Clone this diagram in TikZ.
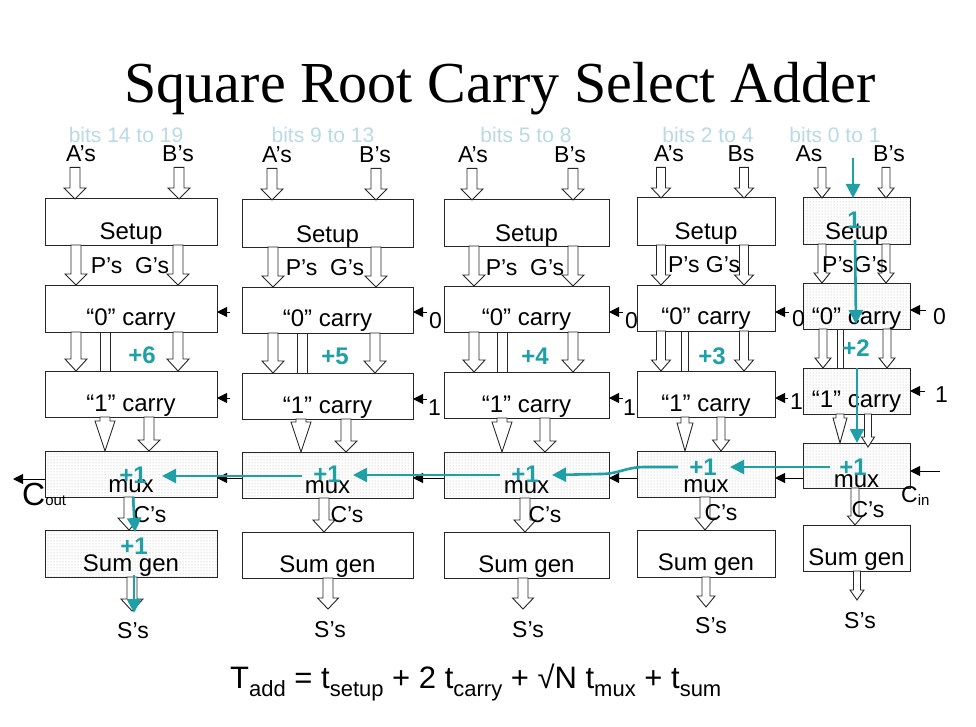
\documentclass[tikz,border=0pt]{standalone}
\usepackage{fontspec}
\setmainfont{Liberation Sans}
\newfontfamily\titlefont{Liberation Serif}
\usetikzlibrary{arrows.meta,patterns,calc}
\definecolor{tealc}{RGB}{30,160,166}
\definecolor{bitsc}{RGB}{185,218,230}
\newcommand\blk[8]{%
  \node[#7, minimum width={(#4-#2)*1pt}, minimum height={(#5-#3)*1pt}, anchor=north west] (#1) at (#2,#3) {};
  \node[boxtext, anchor=base] (#1t) at ([yshift=#8pt]#1.south) {#6};}
\newcommand\harr[6]{%
  \draw[harrow] let \p1=(#2), \p2=(#3) in
    ({(#1-#4/2)*1pt},\y1) -- ({(#1-#4/2)*1pt},{\y2+#6pt}) -- ({(#1-#5/2)*1pt},{\y2+#6pt}) --
    ({(#1)*1pt},\y2) -- ({(#1+#5/2)*1pt},{\y2+#6pt}) -- ({(#1+#4/2)*1pt},{\y2+#6pt}) --
    ({(#1+#4/2)*1pt},\y1) -- cycle;}
\newcommand\sbs[1]{\raisebox{-8pt}{\fontsize{22}{22}\selectfont #1}}
\begin{document}
\begin{tikzpicture}[x=1pt,y=-1pt,
  blkbox/.style={draw=black!85, line width=1pt, inner sep=0pt, outer sep=0pt},
  hotbox/.style={blkbox, pattern=dots, pattern color=black!30},
  boxtext/.style={font=\fontsize{24}{24}\selectfont, inner sep=0pt},
  lbl/.style={font=\fontsize{23}{23}\selectfont, inner sep=0pt},
  bits/.style={font=\fontsize{21}{21}\selectfont, text=bitsc, inner sep=0pt},
  hot/.style={font=\bfseries\fontsize{24}{24}\selectfont, text=tealc, inner sep=0pt},
  harrow/.style={draw=black!85, line width=0.9pt, fill=white, line join=miter},
  busl/.style={draw=black!85, line width=0.9pt},
  sig/.style={draw=black, line width=1pt, -{Triangle[length=10pt,width=10pt]}},
  crit/.style={draw=tealc, line width=2.6pt, -{Triangle[length=14pt,width=14pt]}}]
\fill[white] (0,0) rectangle (976,727);
\useasboundingbox (0,0) rectangle (976,727);

% title
\node[font=\titlefont\fontsize{58}{58}\selectfont, anchor=base, inner sep=0pt] (title) at (500,103) {Square Root Carry Select Adder};

% column 1
\blk{s1}{45}{199}{217}{245}{Setup}{blkbox}{5}
\blk{z1}{45}{285}{217}{332}{“0” carry}{blkbox}{7}
\blk{o1}{45}{371}{217}{417}{“1” carry}{blkbox}{6}
\blk{m1}{45}{451}{217}{497}{mux}{hotbox}{5}
\blk{g1}{45}{530}{217}{577}{Sum gen}{hotbox}{6}
% column 2
\blk{s2}{242}{200}{413}{247}{Setup}{blkbox}{5}
\blk{z2}{242}{287}{413}{333}{“0” carry}{blkbox}{7}
\blk{o2}{242}{373}{413}{419}{“1” carry}{blkbox}{6}
\blk{m2}{242}{452}{413}{498}{mux}{hotbox}{5}
\blk{g2}{242}{532}{413}{578}{Sum gen}{blkbox}{6}
% column 3
\blk{s3}{444}{200}{609}{246}{Setup}{blkbox}{5}
\blk{z3}{444}{286}{609}{332}{“0” carry}{blkbox}{7}
\blk{o3}{444}{372}{609}{418}{“1” carry}{blkbox}{6}
\blk{m3}{444}{452}{609}{498}{mux}{hotbox}{5}
\blk{g3}{444}{532}{609}{578}{Sum gen}{blkbox}{6}
% column 4
\blk{s4}{637}{198}{775}{245}{Setup}{blkbox}{5}
\blk{z4}{637}{285}{775}{331}{“0” carry}{blkbox}{7}
\blk{o4}{637}{371}{775}{417}{“1” carry}{blkbox}{6}
\blk{m4}{637}{451}{775}{497}{mux}{hotbox}{5}
\blk{g4}{637}{530}{775}{577}{Sum gen}{blkbox}{7}
% column 5
\blk{s5}{803}{198}{910}{244}{Setup}{hotbox}{4}
\blk{z5}{803}{283}{910}{329}{“0” carry}{hotbox}{5}
\blk{o5}{803}{368}{910}{414}{“1” carry}{hotbox}{7}
\blk{m5}{803}{443}{910}{488}{mux}{hotbox}{1}
\blk{g5}{803}{525}{910}{571}{Sum gen}{blkbox}{6}

% bit range labels
\node[bits, anchor=base] (bt1) at (126,143) {bits 14 to 19};
\node[bits, anchor=base] (bt2) at (323,143) {bits 9 to 13};
\node[bits, anchor=base] (bt3) at (526,143) {bits 5 to 8};
\node[bits, anchor=base] (bt4) at (708,143) {bits 2 to 4};
\node[bits, anchor=base] (bt5) at (835,143) {bits 0 to 1};

% input labels
\node[lbl, anchor=base] (a1) at (81,162) {A’s};
\node[lbl, anchor=base] (bb1) at (178,162) {B’s};
\node[lbl, anchor=base] (a2) at (277,163) {A’s};
\node[lbl, anchor=base] (bb2) at (375,163) {B’s};
\node[lbl, anchor=base] (a3) at (473,163) {A’s};
\node[lbl, anchor=base] (bb3) at (570,163) {B’s};
\node[lbl, anchor=base] (a4) at (669,162) {A’s};
\node[lbl, anchor=base] (bb4) at (741,162) {Bs};
\node[lbl, anchor=base] (a5) at (809,162) {As};
\node[lbl, anchor=base] (bb5) at (889,162) {B’s};

% column 1 arrows
\harr{75}{[yshift=-5pt]a1.south}{s1.north}{10}{22}{11}
\harr{179}{[yshift=-5pt]bb1.south}{s1.north}{10}{22}{11}
\harr{76}{s1.south}{z1.north}{10}{22}{11}
\harr{178}{s1.south}{z1.north}{10}{22}{11}
\harr{76}{z1.south}{o1.north}{10}{22}{12}
\harr{178}{z1.south}{o1.north}{10}{22}{12}
\draw[busl] ([xshift=55pt]z1.south west) -- ([xshift=55pt]o1.north west)
            ([xshift=65pt]z1.south west) -- ([xshift=65pt]o1.north west);
\harr{105}{o1.south}{m1.north}{10}{20}{30}
\harr{149}{o1.south}{m1.north}{10}{22}{11}
\harr{129}{m1.south}{g1.north}{10}{22}{12}
\harr{132}{g1.south}{132,611}{10}{22}{12}
% column 2 arrows
\harr{272}{[yshift=-5pt]a2.south}{s2.north}{10}{22}{11}
\harr{376}{[yshift=-5pt]bb2.south}{s2.north}{10}{22}{11}
\harr{273}{s2.south}{z2.north}{10}{22}{11}
\harr{376}{s2.south}{z2.north}{10}{22}{11}
\harr{273}{z2.south}{o2.north}{10}{22}{12}
\harr{375}{z2.south}{o2.north}{10}{22}{12}
\draw[busl] ([xshift=55pt]z2.south west) -- ([xshift=55pt]o2.north west)
            ([xshift=65pt]z2.south west) -- ([xshift=65pt]o2.north west);
\harr{301}{o2.south}{m2.north}{10}{20}{30}
\harr{346}{o2.south}{m2.north}{10}{22}{11}
\harr{324}{m2.south}{g2.north}{10}{22}{12}
\harr{328}{g2.south}{328,609}{10}{21}{11}
% column 3 arrows
\harr{472}{[yshift=-5pt]a3.south}{s3.north}{10}{22}{11}
\harr{573}{[yshift=-5pt]bb3.south}{s3.north}{10}{22}{11}
\harr{474}{s3.south}{z3.north}{10}{22}{11}
\harr{573}{s3.south}{z3.north}{10}{22}{11}
\harr{474}{z3.south}{o3.north}{10}{22}{12}
\harr{573}{z3.south}{o3.north}{10}{22}{12}
\draw[busl] ([xshift=53pt]z3.south west) -- ([xshift=53pt]o3.north west)
            ([xshift=63pt]z3.south west) -- ([xshift=63pt]o3.north west);
\harr{502}{o3.south}{m3.north}{10}{20}{30}
\harr{545}{o3.south}{m3.north}{10}{22}{11}
\harr{525}{m3.south}{g3.north}{10}{22}{12}
\harr{523}{g3.south}{523,609}{10}{21}{11}
% column 4 arrows
\harr{661}{[yshift=-5pt]a4.south}{s4.north}{9}{19}{10}
\harr{744}{[yshift=-5pt]bb4.south}{s4.north}{9}{19}{10}
\harr{661}{s4.south}{z4.north}{9}{19}{10}
\harr{744}{s4.south}{z4.north}{9}{19}{10}
\harr{661}{z4.south}{o4.north}{9}{19}{11}
\harr{744}{z4.south}{o4.north}{9}{19}{11}
\draw[busl] ([xshift=44pt]z4.south west) -- ([xshift=44pt]o4.north west)
            ([xshift=51pt]z4.south west) -- ([xshift=51pt]o4.north west);
\harr{685}{o4.south}{m4.north}{8}{16}{28}
\harr{721}{o4.south}{m4.north}{8}{17}{11}
\harr{705}{m4.south}{g4.north}{10}{20}{12}
\harr{706}{g4.south}{706,607}{8}{18}{11}
% column 5 arrows
\harr{822}{[yshift=-5pt]a5.south}{s5.north}{8}{16}{10}
\harr{886}{[yshift=-5pt]bb5.south}{s5.north}{8}{16}{10}
\harr{822}{s5.south}{z5.north}{8}{16}{10}
\harr{886}{s5.south}{z5.north}{8}{16}{10}
\harr{823}{z5.south}{o5.north}{8}{16}{10}
\harr{887}{z5.south}{o5.north}{8}{16}{10}
\draw[busl] ([xshift=34pt]z5.south west) -- ([xshift=34pt]o5.north west)
            ([xshift=40pt]z5.south west) -- ([xshift=40pt]o5.north west);
\harr{840}{o5.south}{m5.north}{8}{14}{25}
\harr{868}{o5.south}{868,447}{7}{13}{10}
\harr{855}{m5.south}{g5.north}{8}{15}{9}
\harr{857}{g5.south}{857,600}{7}{14}{10}

% P's G's, C's, S's labels
\node[lbl, anchor=base] (pg1) at (130,273) {P’s\ \ G’s};
\node[lbl, anchor=base] (pg2) at (325,275) {P’s\ \ G’s};
\node[lbl, anchor=base] (pg3) at (525,275) {P’s\ \ G’s};
\node[lbl, anchor=base] (pg4) at (704,272) {P’s G’s};
\node[lbl, anchor=base] (pg5) at (855,272) {P’sG’s};
\node[lbl, anchor=base] (c1) at (150,522) {C’s};
\node[lbl, anchor=base] (c2) at (347,522) {C’s};
\node[lbl, anchor=base] (c3) at (545,522) {C’s};
\node[lbl, anchor=base] (c4) at (721,520) {C’s};
\node[lbl, anchor=base] (c5) at (868,517) {C’s};
\node[lbl, anchor=base] (sl1) at (133,638) {S’s};
\node[lbl, anchor=base] (sl2) at (330,637) {S’s};
\node[lbl, anchor=base] (sl3) at (528,637) {S’s};
\node[lbl, anchor=base] (sl4) at (711,633) {S’s};
\node[lbl, anchor=base] (sl5) at (860,628) {S’s};

% carry-in constants
\coordinate (in1a) at (230,312);
\coordinate (in1b) at (230,398);
\draw[sig] (in1a) -- (in1a -| z1.east);
\draw[sig] (in1b) -- (in1b -| o1.east);
\node[lbl, anchor=base west] (l2a) at (429,328) {0};
\node[lbl, anchor=base west] (l2b) at (428,415) {1};
\coordinate (in2a) at (427,312);
\coordinate (in2b) at (427,399);
\draw[sig] (in2a) -- (in2a -| z2.east);
\draw[sig] (in2b) -- (in2b -| o2.east);
\node[lbl, anchor=base west] (l3a) at (625,328) {0};
\node[lbl, anchor=base west] (l3b) at (623,415) {1};
\coordinate (in3a) at (623,312);
\coordinate (in3b) at (623,398);
\draw[sig] (in3a) -- (in3a -| z3.east);
\draw[sig] (in3b) -- (in3b -| o3.east);
\node[lbl, anchor=base west] (l4a) at (792,326) {0};
\node[lbl, anchor=base west] (l4b) at (790,409) {1};
\coordinate (in4a) at (789,312);
\coordinate (in4b) at (788,398);
\draw[sig] (in4a) -- (in4a -| z4.east);
\draw[sig] (in4b) -- (in4b -| o4.east);
\node[lbl, anchor=base west] (l5a) at (933,324) {0};
\node[lbl, anchor=base west] (l5b) at (935,402) {1};
\coordinate (in5a) at (926,310);
\coordinate (in5b) at (925,391);
\draw[sig] (in5a) -- (in5a -| z5.east);
\draw[sig] (in5b) -- (in5b -| o5.east);

% mux carry chain
\coordinate (yc) at (0,478);
\draw[sig] (m5.west |- yc) -- (m4.east |- yc);
\draw[sig] (m4.west |- yc) -- (m3.east |- yc);
\draw[sig] (m3.west |- yc) -- (m2.east |- yc);
\draw[sig] (m2.west |- yc) -- (m1.east |- yc);
\coordinate (coutp) at (13,479);
\draw[sig] (m1.west |- coutp) -- (coutp);
\coordinate (cinp) at (940,471);
\draw[sig] (cinp) -- (cinp -| m5.east);
\node[anchor=base west, inner sep=0pt] (cout) at (22,505) {\fontsize{32}{32}\selectfont C\fontsize{15}{15}\selectfont out};
\node[anchor=base west, inner sep=0pt] (cin) at (901,502) {\fontsize{23}{23}\selectfont C\raisebox{-3pt}{\fontsize{15}{15}\selectfont in}};

% critical path
\coordinate (t0) at (853,158);
\draw[crit] (t0) -- (t0 |- s5.north);
\node[hot] (h1) at (854,220) {1};
\coordinate (t1a) at (855,240);
\coordinate (t1b) at (856,324);
\draw[crit] (t1a) -- (t1b);
\node[hot] (h2) at (856,348) {+2};
\coordinate (t2a) at (857,368);
\draw[crit] (t2a) -- (t2a |- m5.north);
\node[hot] (h3) at (853,467) {+1};
\coordinate (t3a) at (830,467);
\coordinate (t3b) at (730,467);
\draw[crit] (t3a) -- (t3b);
\node[hot] (h4) at (703,467) {+1};
\coordinate (t4a) at (678,467);
\coordinate (t4b) at (552,475);
\draw[crit] (t4a) -- (645,467) .. controls (625,467) and (620,474) .. (600,474) -- (t4b);
\node[hot] (h5) at (525,474) {+1};
\coordinate (t5a) at (500,475);
\coordinate (t5b) at (353,475);
\draw[crit] (t5a) -- (t5b);
\node[hot] (h6) at (327,474) {+1};
\coordinate (t6a) at (302,476);
\coordinate (t6b) at (162,476);
\draw[crit] (t6a) -- (t6b);
\node[hot] (h7) at (133,475) {+1};
\coordinate (t7a) at (133,497);
\coordinate (t7b) at (135,532);
\draw[crit] (t7a) -- (t7b);
\node[hot] (h8) at (134,546) {+1};
\coordinate (t8a) at (134,575);
\coordinate (t8b) at (134,613);
\draw[crit] (t8a) -- (t8b);
\node[hot] (d1) at (142,355) {+6};
\node[hot] (d2) at (335,356) {+5};
\node[hot] (d3) at (535,356) {+4};
\node[hot] (d4) at (712,356) {+3};

% delay formula
\node[anchor=base west, inner sep=0pt, font=\fontsize{31}{31}\selectfont] (tadd) at (230,688)
  {T\sbs{add} = t\sbs{setup} + 2 t\sbs{carry} + √N t\sbs{mux} + t\sbs{sum}};
\end{tikzpicture}
\end{document}
